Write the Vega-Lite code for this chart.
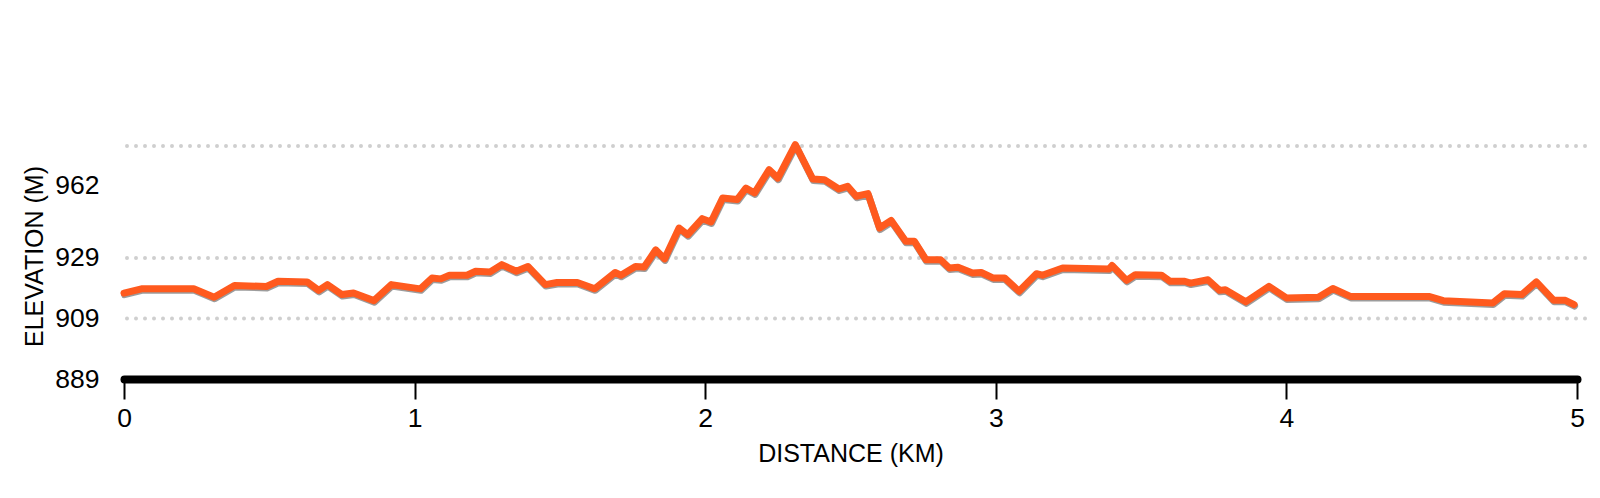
{
  "$schema": "https://vega.github.io/schema/vega-lite/v6.json",
  "width": 1453,
  "height": 239,
  "autosize": {"type": "none"},
  "padding": {"left": 124, "right": 23, "top": 140, "bottom": 119},
  "background": "white",
  "config": {
    "view": {"stroke": null},
    "font": "Liberation Sans"
  },
  "datasets": {
    "profile": [
      {"km": 0.00, "elev": 917.4},
      {"km": 0.06, "elev": 918.8},
      {"km": 0.24, "elev": 918.8},
      {"km": 0.31, "elev": 916.0},
      {"km": 0.38, "elev": 919.9},
      {"km": 0.49, "elev": 919.6},
      {"km": 0.53, "elev": 921.3},
      {"km": 0.63, "elev": 921.1},
      {"km": 0.67, "elev": 918.3},
      {"km": 0.70, "elev": 920.2},
      {"km": 0.75, "elev": 916.9},
      {"km": 0.79, "elev": 917.4},
      {"km": 0.86, "elev": 914.9},
      {"km": 0.92, "elev": 920.2},
      {"km": 1.02, "elev": 918.8},
      {"km": 1.06, "elev": 922.4},
      {"km": 1.09, "elev": 922.1},
      {"km": 1.12, "elev": 923.3},
      {"km": 1.18, "elev": 923.3},
      {"km": 1.21, "elev": 924.6},
      {"km": 1.26, "elev": 924.4},
      {"km": 1.30, "elev": 926.8},
      {"km": 1.35, "elev": 924.6},
      {"km": 1.39, "elev": 926.2},
      {"km": 1.45, "elev": 920.2},
      {"km": 1.49, "elev": 920.9},
      {"km": 1.56, "elev": 920.9},
      {"km": 1.62, "elev": 918.8},
      {"km": 1.69, "elev": 924.2},
      {"km": 1.71, "elev": 923.3},
      {"km": 1.76, "elev": 926.2},
      {"km": 1.79, "elev": 926.0},
      {"km": 1.83, "elev": 931.7},
      {"km": 1.86, "elev": 928.7},
      {"km": 1.91, "elev": 938.9},
      {"km": 1.94, "elev": 936.7},
      {"km": 1.99, "elev": 942.0},
      {"km": 2.02, "elev": 940.9},
      {"km": 2.06, "elev": 948.8},
      {"km": 2.11, "elev": 948.3},
      {"km": 2.14, "elev": 952.1},
      {"km": 2.17, "elev": 950.5},
      {"km": 2.22, "elev": 958.2},
      {"km": 2.25, "elev": 955.4},
      {"km": 2.31, "elev": 966.5},
      {"km": 2.37, "elev": 955.1},
      {"km": 2.41, "elev": 954.9},
      {"km": 2.46, "elev": 951.8},
      {"km": 2.49, "elev": 952.7},
      {"km": 2.52, "elev": 949.4},
      {"km": 2.56, "elev": 950.3},
      {"km": 2.60, "elev": 938.9},
      {"km": 2.64, "elev": 941.4},
      {"km": 2.69, "elev": 934.5},
      {"km": 2.72, "elev": 934.5},
      {"km": 2.76, "elev": 928.4},
      {"km": 2.81, "elev": 928.4},
      {"km": 2.84, "elev": 925.7},
      {"km": 2.87, "elev": 925.9},
      {"km": 2.92, "elev": 924.0},
      {"km": 2.95, "elev": 924.2},
      {"km": 2.99, "elev": 922.4},
      {"km": 3.03, "elev": 922.4},
      {"km": 3.08, "elev": 918.0},
      {"km": 3.14, "elev": 923.8},
      {"km": 3.16, "elev": 923.3},
      {"km": 3.23, "elev": 925.7},
      {"km": 3.39, "elev": 925.4},
      {"km": 3.40, "elev": 926.5},
      {"km": 3.45, "elev": 921.6},
      {"km": 3.48, "elev": 923.5},
      {"km": 3.57, "elev": 923.3},
      {"km": 3.60, "elev": 921.3},
      {"km": 3.65, "elev": 921.3},
      {"km": 3.67, "elev": 920.7},
      {"km": 3.73, "elev": 921.8},
      {"km": 3.77, "elev": 918.3},
      {"km": 3.79, "elev": 918.5},
      {"km": 3.86, "elev": 914.5},
      {"km": 3.94, "elev": 919.6},
      {"km": 4.00, "elev": 915.8},
      {"km": 4.11, "elev": 916.0},
      {"km": 4.16, "elev": 918.9},
      {"km": 4.22, "elev": 916.3},
      {"km": 4.49, "elev": 916.3},
      {"km": 4.54, "elev": 914.9},
      {"km": 4.71, "elev": 914.1},
      {"km": 4.75, "elev": 917.2},
      {"km": 4.81, "elev": 916.9},
      {"km": 4.86, "elev": 921.1},
      {"km": 4.92, "elev": 915.0},
      {"km": 4.96, "elev": 915.0},
      {"km": 4.99, "elev": 913.6}
    ],
    "gridlines": [
      {"elev": 909},
      {"elev": 929},
      {"elev": 966}
    ]
  },
  "layer": [
    {
      "data": {"name": "gridlines"},
      "mark": {"type": "rule", "color": "#cfcfcf", "strokeWidth": 4, "strokeDash": [0, 9], "strokeCap": "round", "xOffset": 8},
      "encoding": {
        "y": {
          "field": "elev",
          "type": "quantitative",
          "scale": {"domain": [889, 968], "nice": false, "zero": false},
          "axis": {
            "title": "ELEVATION (M)",
            "values": [889, 909, 929, 962],
            "grid": false,
            "domain": false,
            "ticks": false,
            "labelFontSize": 26.5,
            "labelColor": "#000000",
            "labelPadding": 25,
            "labelOffset": {"condition": {"test": "datum.value === 962", "value": 27}, "value": 0},
            "titleFontSize": 25,
            "titleFontWeight": "normal",
            "titleColor": "#000000",
            "titlePadding": 7.5,
            "titleY": 116
          }
        }
      }
    },
    {
      "data": {"name": "profile"},
      "mark": {"type": "line", "color": "#3a3a3a", "opacity": 0.5, "strokeWidth": 7, "strokeCap": "round", "strokeJoin": "round", "xOffset": 0.5, "yOffset": 1.5},
      "encoding": {
        "x": {
          "field": "km",
          "type": "quantitative",
          "scale": {"domain": [0, 5], "nice": false, "zero": false},
          "axis": {
            "title": "DISTANCE (KM)",
            "values": [0, 1, 2, 3, 4, 5],
            "format": "d",
            "grid": false,
            "labelFlush": false,
            "labelFontSize": 26.5,
            "labelColor": "#000000",
            "labelPadding": 6,
            "tickSize": 20,
            "tickWidth": 2,
            "tickColor": "#000000",
            "domainWidth": 8,
            "domainColor": "#000000",
            "domainCap": "round",
            "titleFontSize": 25,
            "titleFontWeight": "normal",
            "titleColor": "#000000",
            "titlePadding": 9.5
          }
        },
        "y": {"field": "elev", "type": "quantitative"}
      }
    },
    {
      "data": {"name": "profile"},
      "mark": {"type": "line", "color": "#FF5A1E", "strokeWidth": 7, "strokeCap": "round", "strokeJoin": "round"},
      "encoding": {
        "x": {"field": "km", "type": "quantitative"},
        "y": {"field": "elev", "type": "quantitative"}
      }
    }
  ]
}
